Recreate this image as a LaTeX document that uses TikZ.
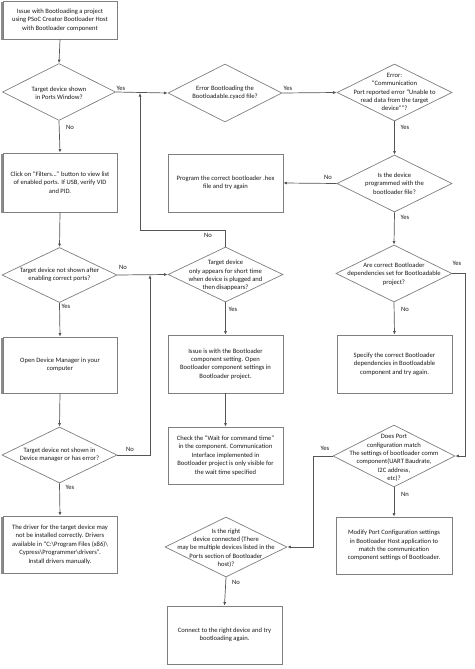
\documentclass[tikz,border=0pt]{standalone}
\usepackage{fontspec}
\setmainfont{Carlito}
\usetikzlibrary{shapes.geometric,arrows.meta,shadows}
\definecolor{bordergray}{HTML}{7F7F7F}
\definecolor{linegray}{HTML}{555555}
\definecolor{txtgray}{HTML}{1A1A1A}
\newcommand{\fsz}{\fontsize{6.6}{8.4}\selectfont}
\begin{document}
\begin{tikzpicture}[x=1pt,y=-1pt,
  procbox/.style={draw=bordergray, line width=0.7pt, fill=white, rectangle, inner sep=0pt, align=center, font=\fsz, text=txtgray},
  shadowed/.style={drop shadow={shadow xshift=-2pt, shadow yshift=-1.2pt, fill=black!45, opacity=1}},
  decision/.style={draw=bordergray, line width=0.7pt, fill=white, diamond, inner sep=0pt},
  dtxt/.style={align=center, inner sep=0pt, font=\fsz, text=txtgray},
  conn/.style={draw=linegray, line width=0.7pt},
  arr/.style={conn, -{Latex[length=3.5pt,width=3pt]}},
  lbl/.style={font=\fsz, inner sep=0pt, text=txtgray}]
\useasboundingbox (0,0) rectangle (474,669);
% left column
\node[procbox, shadowed, minimum width=114pt, minimum height=38pt] (start) at (60,20) {Issue with Bootloading a project\\using PSoC Creator Bootloader Host\\with Bootloader component};
\node[decision, minimum width=113pt, minimum height=57pt] (d1) at (59,92) {};
\node[dtxt] (d1t) at (59,93) {Target device shown\\in Ports Window?};
\node[procbox, shadowed, minimum width=114pt, minimum height=59pt] (b2) at (60,182.5) {Click on “Filters...” button to view list\\of enabled ports. If USB, verify VID\\and PID.};
\node[decision, minimum width=115pt, minimum height=55pt] (d2) at (59.5,275) {};
\node[dtxt] (d2t) at (59.5,275) {Target device not shown after\\enabling correct ports?};
\node[procbox, shadowed, minimum width=114pt, minimum height=56pt] (b3) at (60,365) {Open Device Manager in your\\computer};
\node[decision, minimum width=115pt, minimum height=56pt] (d3) at (59.5,455) {};
\node[dtxt] (d3t) at (59.5,455) {Target device not shown in\\Device manager or has error?};
\node[procbox, shadowed, minimum width=114pt, minimum height=57pt] (b4) at (60,544.5) {The driver for the target device may\\not be installed correctly. Drivers\\available in “C:\textbackslash Program Files (x86)\textbackslash\\Cypress\textbackslash Programmer\textbackslash drivers”.\\Install drivers manually.};
% middle column
\node[decision, minimum width=114pt, minimum height=58pt] (e1) at (225,93) {};
\node[dtxt] (e1t) at (225,93) {Error Bootloading the\\Bootloadable.cyacd file?};
\node[procbox, minimum width=115pt, minimum height=58pt] (pb) at (225.5,183) {Program the correct bootloader .hex\\file and try again};
\node[decision, minimum width=115pt, minimum height=55pt] (d4) at (225.5,274.5) {};
\node[dtxt] (d4t) at (225.5,275.5) {Target device\\only appears for short time\\when device is plugged and\\then disappears?};
\node[procbox, minimum width=115pt, minimum height=58pt] (ib) at (225.5,364) {Issue is with the Bootloader\\component setting. Open\\Bootloader component settings in\\Bootloader project.};
\node[procbox, minimum width=115pt, minimum height=57pt] (cb) at (225.5,455.5) {Check the “Wait for command time”\\in the component. Communication\\Interface implemented in\\Bootloader project is only visible for\\the wait time specified};
\node[decision, minimum width=122pt, minimum height=60pt] (d5) at (226,547) {};
\node[dtxt] (d5t) at (226,548) {Is the right\\device connected (There\\may be multiple devices listed in the\\Ports section of Bootloader\\host)?};
\node[procbox, minimum width=115pt, minimum height=58pt] (cn) at (224.5,635) {Connect to the right device and try\\bootloading again.};
% right column
\node[decision, minimum width=115pt, minimum height=57pt] (e2) at (394.5,92.5) {};
\node[dtxt] (e2t) at (394.5,92) {Error:\\“Communication\\Port reported error “Unable to\\read data from the target\\device””?};
\node[decision, minimum width=115pt, minimum height=57pt] (d6) at (394.5,183.5) {};
\node[dtxt] (d6t) at (394.5,183.5) {Is the device\\programmed with the\\bootloader file?};
\node[decision, minimum width=116pt, minimum height=57pt] (d7) at (394,273.5) {};
\node[dtxt] (d7t) at (394,274) {Are correct Bootloader\\dependencies set for Bootloadable\\project?};
\node[procbox, minimum width=115pt, minimum height=58pt] (sb) at (394.5,364) {Specify the correct Bootloader\\dependencies in Bootloadable\\component and try again.};
\node[decision, minimum width=122pt, minimum height=62pt] (d8) at (394,456) {};
\node[dtxt] (d8t) at (394,458) {Does Port\\configuration match\\The settings of bootloader comm\\component(UART Baudrate,\\I2C address,\\etc)?};
\node[procbox, minimum width=116pt, minimum height=57pt] (mb) at (394,545.5) {Modify Port Configuration settings\\in Bootloader Host application to\\match the communication\\component settings of Bootloader.};
% junction coordinates
\coordinate (j1) at (140,230);
\coordinate (j1t) at (140,93);
\coordinate (j2) at (150,455);
\coordinate (j2t) at (150,275);
\coordinate (j3) at (465,273.5);
\coordinate (j3b) at (465,456);
\coordinate (j4) at (313,456);
\coordinate (j4b) at (313,547);
% connectors
\draw[arr] (start.south) -- (d1.north);
\draw[arr] (d1.south) -- (b2.north);
\draw[arr] (d1.east) -- (e1.west);
\draw[arr] (b2.south) -- (d2.north);
\draw[arr] (d2.east) -- (d4.west);
\draw[arr] (d2.south) -- (b3.north);
\draw[arr] (b3.south) -- (d3.north);
\draw[arr] (d3.east) -- (j2) -- (j2t);
\draw[arr] (d3.south) -- (b4.north);
\draw[arr] (d4.north) -- (d4.north |- j1) -- (j1) -- (j1t);
\draw[arr] (d4.south) -- (ib.north);
\draw[arr] (ib.south) -- (cb.north);
\draw[arr] (e1.east) -- (e2.west);
\draw[arr] (e2.south) -- (d6.north);
\draw[arr] (d6.west) -- (pb.east);
\draw[arr] (d6.south) -- (d7.north);
\draw[arr] (d7.south) -- (sb.north);
\draw[arr] (d7.east) -- (j3) -- (j3b) -- (d8.east);
\draw[arr] (d8.west) -- (j4) -- (j4b) -- (d5.east);
\draw[arr] (d8.south) -- (mb.north);
\draw[arr] (d5.south) -- (cn.north);
% labels
\node[lbl] (l1) at (121,88) {Yes};
\node[lbl] (l2) at (70,127) {No};
\node[lbl] (l3) at (123,267) {No};
\node[lbl] (l4) at (66,306) {Yes};
\node[lbl] (l5) at (130,449) {No};
\node[lbl] (l6) at (70,487) {Yes};
\node[lbl] (l7) at (208,235) {No};
\node[lbl] (l8) at (233,309) {Yes};
\node[lbl] (l9) at (288,88) {Yes};
\node[lbl] (l10) at (405,127) {Yes};
\node[lbl] (l11) at (328,177) {No};
\node[lbl] (l12) at (405,217) {Yes};
\node[lbl] (l13) at (405,309) {No};
\node[lbl] (l14) at (457,263) {Yes};
\node[lbl] (l15) at (325,448) {Yes};
\node[lbl] (l16) at (405,494) {Nn};
\node[lbl] (l17) at (236,582) {No};
\end{tikzpicture}
\end{document}
